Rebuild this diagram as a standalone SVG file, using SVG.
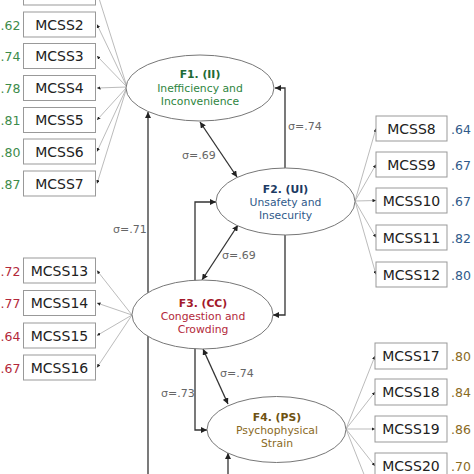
<svg xmlns="http://www.w3.org/2000/svg" width="474" height="474" viewBox="0 0 474 474">
<defs>
<marker id="ah" viewBox="0 0 6 6" refX="6" refY="3" markerWidth="6" markerHeight="6" markerUnits="userSpaceOnUse" orient="auto-start-reverse"><path d="M0,0 L6,3 L0,6 z" fill="#222"/></marker>
<marker id="sm" viewBox="0 0 6 6" refX="6" refY="3" markerWidth="3.5" markerHeight="3.5" markerUnits="userSpaceOnUse" orient="auto"><path d="M0,0 L6,3 L0,6 z" fill="#222"/></marker>
<style>
.box{fill:#fff;stroke:#999;stroke-width:1}
.bt{font-family:"DejaVu Sans",sans-serif;font-size:14px;fill:#222;text-anchor:middle}
.ell{fill:#fff;stroke:#777;stroke-width:1}
.et{font-family:"DejaVu Sans",sans-serif;font-size:10.8px;text-anchor:middle}
.eb{font-weight:bold}
.ind{stroke:#aaa;stroke-width:0.8;fill:none;marker-end:url(#sm)}
.con{stroke:#333;stroke-width:1.3;fill:none}
.sg{font-family:"DejaVu Sans",sans-serif;font-size:11px;fill:#666}
.val{font-family:"DejaVu Sans",sans-serif;font-size:12.5px}
.vl{text-anchor:end}
.g{fill:#3d8b4a}.b{fill:#2f5a8a}.r{fill:#b3283a}.o{fill:#8a6a1e}
</style>
</defs>
<g id="connectors">
<line class="ind" x1="127" y1="87" x2="97" y2="-8"/>
<line class="ind" x1="127" y1="87" x2="97" y2="24.5"/>
<line class="ind" x1="127" y1="87" x2="97" y2="56"/>
<line class="ind" x1="127" y1="87" x2="97" y2="88"/>
<line class="ind" x1="127" y1="87" x2="97" y2="120"/>
<line class="ind" x1="127" y1="87" x2="97" y2="151.5"/>
<line class="ind" x1="127" y1="87" x2="97" y2="183.5"/>
<line class="ind" x1="355" y1="201" x2="376" y2="128.5"/>
<line class="ind" x1="355" y1="201" x2="376" y2="164.5"/>
<line class="ind" x1="355" y1="201" x2="376" y2="200.5"/>
<line class="ind" x1="355" y1="201" x2="376" y2="237.5"/>
<line class="ind" x1="355" y1="201" x2="376" y2="274.5"/>
<line class="ind" x1="132" y1="315" x2="97" y2="270.5"/>
<line class="ind" x1="132" y1="315" x2="97" y2="303"/>
<line class="ind" x1="132" y1="315" x2="97" y2="335.5"/>
<line class="ind" x1="132" y1="315" x2="97" y2="367.5"/>
<line class="ind" x1="346" y1="429" x2="375" y2="356"/>
<line class="ind" x1="346" y1="429" x2="375" y2="392"/>
<line class="ind" x1="346" y1="429" x2="375" y2="429"/>
<line class="ind" x1="346" y1="429" x2="375" y2="466"/>
<line class="ind" x1="346" y1="429" x2="375" y2="502"/>
<line class="con" x1="200" y1="122" x2="237" y2="177" marker-start="url(#ah)" marker-end="url(#ah)"/>
<path class="con" d="M275,88 H285 V315 H273" marker-start="url(#ah)" marker-end="url(#ah)"/>
<path class="con" d="M148,490 V112" marker-end="url(#ah)"/>
<path class="con" d="M216,202 H195 V430 H207" marker-start="url(#ah)" marker-end="url(#ah)"/>
<line class="con" x1="238" y1="225" x2="202" y2="280" marker-start="url(#ah)" marker-end="url(#ah)"/>
<line class="con" x1="203" y1="349" x2="228" y2="404" marker-start="url(#ah)" marker-end="url(#ah)"/>
<path class="con" d="M228,490 V453" marker-end="url(#ah)"/>
<text class="sg" x="182" y="159">σ=.69</text>
<text class="sg" x="288" y="130">σ=.74</text>
<text class="sg" x="113" y="233">σ=.71</text>
<text class="sg" x="222" y="259">σ=.69</text>
<text class="sg" x="220" y="377">σ=.74</text>
<text class="sg" x="161" y="397">σ=.73</text>
</g>
<g id="F1"><ellipse class="ell" cx="200" cy="88" rx="74" ry="33"/>
<text class="et eb" x="200" y="78" fill="#1e6b35">F1. (II)</text>
<text class="et" x="200" y="92" fill="#2e8540">Inefficiency and</text>
<text class="et" x="200" y="105" fill="#2e8540">Inconvenience</text></g>
<g id="F2"><ellipse class="ell" cx="285.5" cy="201.5" rx="69.5" ry="33.5"/>
<text class="et eb" x="285.5" y="193" fill="#1c3a63">F2. (UI)</text>
<text class="et" x="285.5" y="206" fill="#2f5a8a">Unsafety and</text>
<text class="et" x="285.5" y="219" fill="#2f5a8a">Insecurity</text></g>
<g id="F3"><ellipse class="ell" cx="202.5" cy="314.5" rx="70.5" ry="34.5"/>
<text class="et eb" x="203" y="307" fill="#a3192b">F3. (CC)</text>
<text class="et" x="203" y="320" fill="#b3283a">Congestion and</text>
<text class="et" x="203" y="333" fill="#b3283a">Crowding</text></g>
<g id="F4"><ellipse class="ell" cx="276.5" cy="429.5" rx="69.5" ry="33"/>
<text class="et eb" x="277" y="421" fill="#6e5212">F4. (PS)</text>
<text class="et" x="277" y="434" fill="#8a6a1e">Psychophysical</text>
<text class="et" x="277" y="447" fill="#8a6a1e">Strain</text></g>
<g id="MCSS1"><rect class="box" x="23.5" y="-20" width="72" height="25"/></g>
<g id="MCSS2"><rect class="box" x="23.5" y="12" width="72" height="25"/><text class="bt" x="59.5" y="29.5">MCSS2</text><text class="val vl g" x="20.5" y="29.5">.62</text></g>
<g id="MCSS3"><rect class="box" x="23.5" y="43.5" width="72" height="25"/><text class="bt" x="59.5" y="61">MCSS3</text><text class="val vl g" x="20.5" y="61">.74</text></g>
<g id="MCSS4"><rect class="box" x="23.5" y="75.5" width="72" height="25"/><text class="bt" x="59.5" y="93">MCSS4</text><text class="val vl g" x="20.5" y="93">.78</text></g>
<g id="MCSS5"><rect class="box" x="23.5" y="107.5" width="72" height="25"/><text class="bt" x="59.5" y="125">MCSS5</text><text class="val vl g" x="20.5" y="125">.81</text></g>
<g id="MCSS6"><rect class="box" x="23.5" y="139" width="72" height="25"/><text class="bt" x="59.5" y="156.5">MCSS6</text><text class="val vl g" x="20.5" y="156.5">.80</text></g>
<g id="MCSS7"><rect class="box" x="23.5" y="171" width="72" height="25"/><text class="bt" x="59.5" y="188.5">MCSS7</text><text class="val vl g" x="20.5" y="188.5">.87</text></g>
<g id="MCSS8"><rect class="box" x="376" y="116" width="71" height="25"/><text class="bt" x="411.5" y="133.5">MCSS8</text><text class="val b" x="451" y="133.5">.64</text></g>
<g id="MCSS9"><rect class="box" x="376" y="152" width="71" height="25"/><text class="bt" x="411.5" y="169.5">MCSS9</text><text class="val b" x="451" y="169.5">.67</text></g>
<g id="MCSS10"><rect class="box" x="376" y="188" width="71" height="25"/><text class="bt" x="411.5" y="205.5">MCSS10</text><text class="val b" x="451" y="205.5">.67</text></g>
<g id="MCSS11"><rect class="box" x="376" y="225" width="71" height="25"/><text class="bt" x="411.5" y="242.5">MCSS11</text><text class="val b" x="451" y="242.5">.82</text></g>
<g id="MCSS12"><rect class="box" x="376" y="262" width="71" height="25"/><text class="bt" x="411.5" y="279.5">MCSS12</text><text class="val b" x="451" y="279.5">.80</text></g>
<g id="MCSS13"><rect class="box" x="23.5" y="258" width="72" height="25"/><text class="bt" x="59.5" y="275.5">MCSS13</text><text class="val vl r" x="20.5" y="275.5">.72</text></g>
<g id="MCSS14"><rect class="box" x="23.5" y="290.5" width="72" height="25"/><text class="bt" x="59.5" y="308">MCSS14</text><text class="val vl r" x="20.5" y="308">.77</text></g>
<g id="MCSS15"><rect class="box" x="23.5" y="323" width="72" height="25"/><text class="bt" x="59.5" y="340.5">MCSS15</text><text class="val vl r" x="20.5" y="340.5">.64</text></g>
<g id="MCSS16"><rect class="box" x="23.5" y="355" width="72" height="25"/><text class="bt" x="59.5" y="372.5">MCSS16</text><text class="val vl r" x="20.5" y="372.5">.67</text></g>
<g id="MCSS17"><rect class="box" x="375" y="343" width="72" height="26"/><text class="bt" x="411" y="361">MCSS17</text><text class="val o" x="451" y="361">.80</text></g>
<g id="MCSS18"><rect class="box" x="375" y="379" width="72" height="26"/><text class="bt" x="411" y="397">MCSS18</text><text class="val o" x="451" y="397">.84</text></g>
<g id="MCSS19"><rect class="box" x="375" y="416" width="72" height="26"/><text class="bt" x="411" y="434">MCSS19</text><text class="val o" x="451" y="434">.86</text></g>
<g id="MCSS20"><rect class="box" x="375" y="453" width="72" height="26"/><text class="bt" x="411" y="471">MCSS20</text><text class="val o" x="451" y="471">.70</text></g>
</svg>
